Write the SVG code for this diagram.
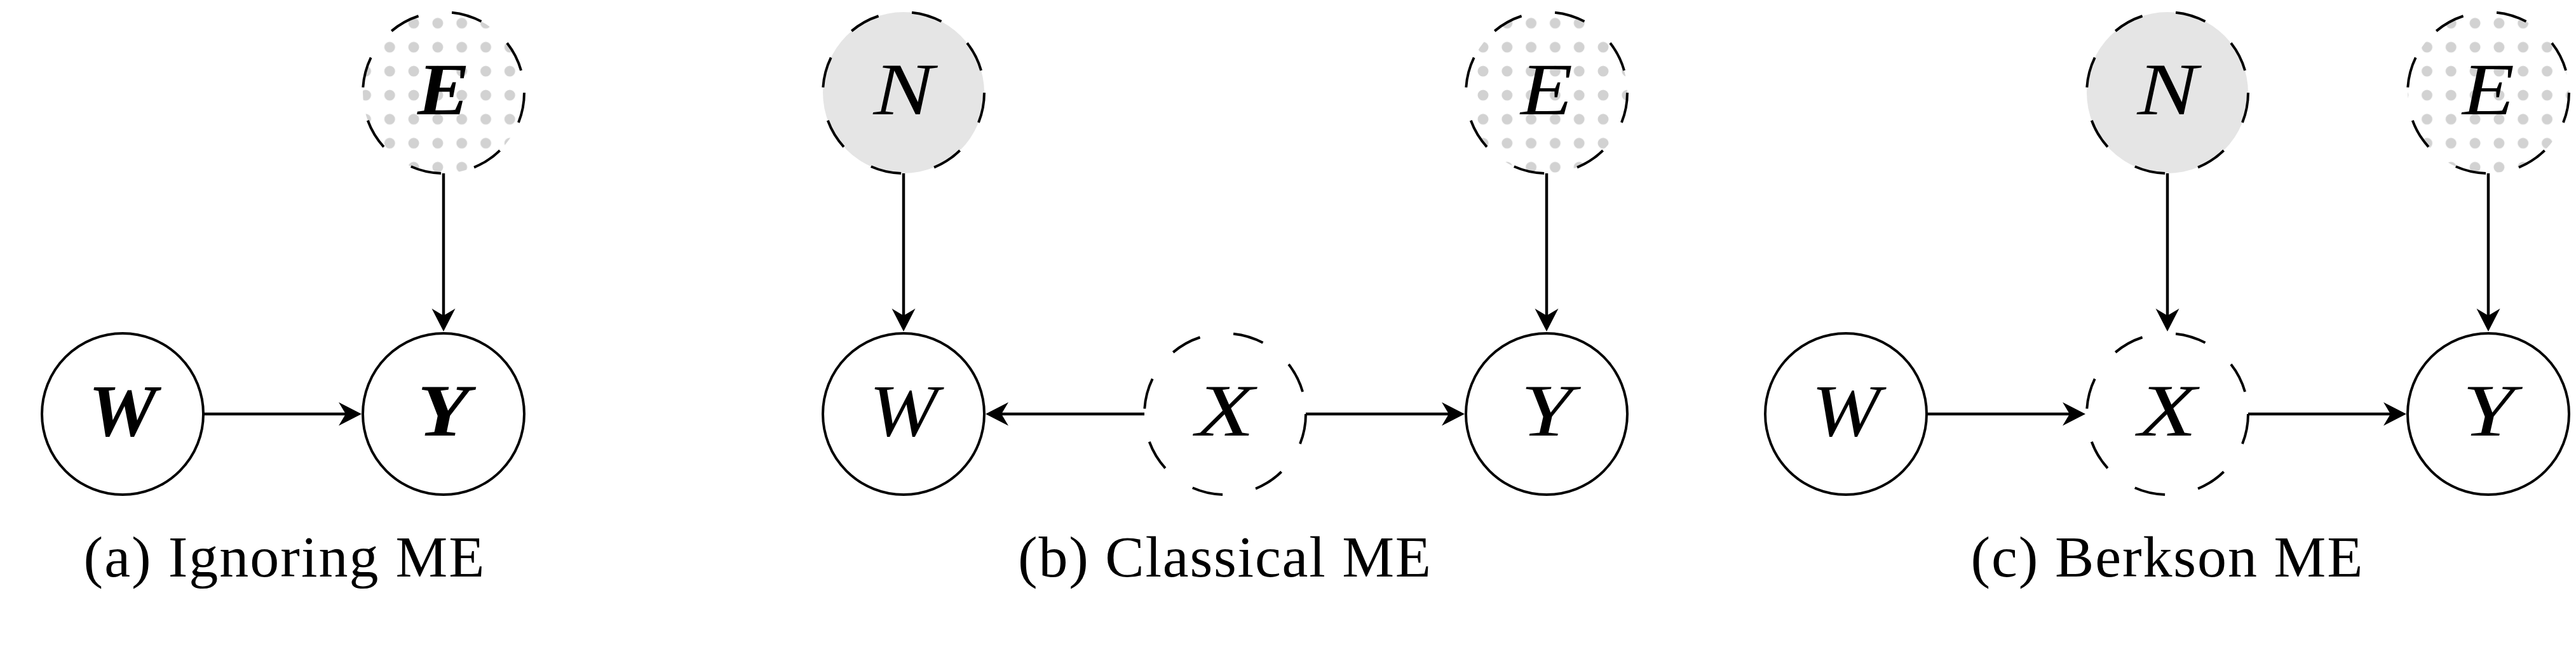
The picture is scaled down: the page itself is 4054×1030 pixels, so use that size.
<svg xmlns="http://www.w3.org/2000/svg" width="4054" height="1030" viewBox="0 0 4054 1030">
<style>
  .solid { fill: #ffffff; stroke: #000000; stroke-width: 4; }
  .dash { stroke: #000000; stroke-width: 4; stroke-dasharray: 48.8 53.2; stroke-dashoffset: 66.5; }
  .noise { fill: #e5e5e5; }
  .lbl { font-family: "Liberation Serif", "Times New Roman", serif; font-style: italic; font-size: 116px; text-anchor: middle; fill: #000000; }
  .bold { font-weight: bold; }
  .cap { font-family: "Liberation Serif", "Times New Roman", serif; font-size: 92px; text-anchor: middle; fill: #000000; }
  .edge { fill: none; stroke: #000000; stroke-width: 4.5; marker-end: url(#arr); }
</style>
<defs>
  <marker id="arr" markerUnits="userSpaceOnUse" markerWidth="80" markerHeight="80" refX="0" refY="0" orient="auto" overflow="visible">
    <path d="M 20 0 L -16 -18.5 L -5 0 L -16 18.5 Z" fill="#000000"/>
  </marker>
  <pattern id="dotsA" patternUnits="userSpaceOnUse" x="594.4" y="17.6" width="37.8" height="37.8">
    <circle cx="18.9" cy="18.9" r="8.5" fill="#d2d2d2"/>
  </pattern>
  <pattern id="dotsB" patternUnits="userSpaceOnUse" x="2315.1" y="17.6" width="37.8" height="37.8">
    <circle cx="18.9" cy="18.9" r="8.5" fill="#d2d2d2"/>
  </pattern>
  <pattern id="dotsC" patternUnits="userSpaceOnUse" x="3800.6" y="17.6" width="37.8" height="37.8">
    <circle cx="18.9" cy="18.9" r="8.5" fill="#d2d2d2"/>
  </pattern>
</defs>

<rect x="0" y="0" width="4054" height="1030" fill="#ffffff"/>

<!-- Panel (a) -->
<g id="a-W">
  <circle class="solid" cx="193" cy="652" r="127"/>
  <text class="lbl bold" x="193" y="686" textLength="108" lengthAdjust="spacingAndGlyphs">W</text>
</g>
<g id="a-Y">
  <circle class="solid" cx="698" cy="652" r="127"/>
  <text class="lbl bold" x="698" y="686" textLength="82" lengthAdjust="spacingAndGlyphs">Y</text>
</g>
<g id="a-E">
  <path class="dash" fill="url(#dotsA)" d="M 825 146 A 127 127 0 0 0 571 146 A 127 127 0 0 0 825 146 Z"/>
  <text class="lbl bold" x="698" y="180" textLength="82" lengthAdjust="spacingAndGlyphs">E</text>
</g>
<text id="cap-a" class="cap" x="447" y="908" textLength="631" lengthAdjust="spacing">(a) Ignoring ME</text>

<!-- Panel (b) -->
<g id="b-N">
  <path class="dash noise" d="M 1549 146 A 127 127 0 0 0 1295 146 A 127 127 0 0 0 1549 146 Z"/>
  <text class="lbl" x="1422" y="180" textLength="95" lengthAdjust="spacingAndGlyphs">N</text>
</g>
<g id="b-W">
  <circle class="solid" cx="1422" cy="652" r="127"/>
  <text class="lbl" x="1422" y="686" textLength="108" lengthAdjust="spacingAndGlyphs">W</text>
</g>
<g id="b-X">
  <path class="dash" fill="none" d="M 2055 652 A 127 127 0 0 0 1801 652 A 127 127 0 0 0 2055 652 Z"/>
  <text class="lbl" x="1928" y="686" textLength="92" lengthAdjust="spacingAndGlyphs">X</text>
</g>
<g id="b-E">
  <path class="dash" fill="url(#dotsB)" d="M 2561 146 A 127 127 0 0 0 2307 146 A 127 127 0 0 0 2561 146 Z"/>
  <text class="lbl" x="2434" y="180" textLength="82" lengthAdjust="spacingAndGlyphs">E</text>
</g>
<g id="b-Y">
  <circle class="solid" cx="2434" cy="652" r="127"/>
  <text class="lbl" x="2434" y="686" textLength="82" lengthAdjust="spacingAndGlyphs">Y</text>
</g>
<text id="cap-b" class="cap" x="1927" y="908" textLength="650" lengthAdjust="spacing">(b) Classical ME</text>

<!-- Panel (c) -->
<g id="c-W">
  <circle class="solid" cx="2905" cy="652" r="127"/>
  <text class="lbl" x="2905" y="686" textLength="108" lengthAdjust="spacingAndGlyphs">W</text>
</g>
<g id="c-N">
  <path class="dash noise" d="M 3538 146 A 127 127 0 0 0 3284 146 A 127 127 0 0 0 3538 146 Z"/>
  <text class="lbl" x="3411" y="180" textLength="95" lengthAdjust="spacingAndGlyphs">N</text>
</g>
<g id="c-X">
  <path class="dash" fill="none" d="M 3538 652 A 127 127 0 0 0 3284 652 A 127 127 0 0 0 3538 652 Z"/>
  <text class="lbl" x="3411" y="686" textLength="92" lengthAdjust="spacingAndGlyphs">X</text>
</g>
<g id="c-E">
  <path class="dash" fill="url(#dotsC)" d="M 4043 146 A 127 127 0 0 0 3789 146 A 127 127 0 0 0 4043 146 Z"/>
  <text class="lbl" x="3916" y="180" textLength="82" lengthAdjust="spacingAndGlyphs">E</text>
</g>
<g id="c-Y">
  <circle class="solid" cx="3916" cy="652" r="127"/>
  <text class="lbl" x="3916" y="686" textLength="82" lengthAdjust="spacingAndGlyphs">Y</text>
</g>
<text id="cap-c" class="cap" x="3410" y="908" textLength="617" lengthAdjust="spacing">(c) Berkson ME</text>

<!-- Connectors -->
<g id="connectors">
  <path class="edge" d="M 320 652 L 549 652"/>
  <path class="edge" d="M 698 273 L 698 502"/>
  <path class="edge" d="M 1422 273 L 1422 502"/>
  <path class="edge" d="M 1801 652 L 1571 652"/>
  <path class="edge" d="M 2055 652 L 2285 652"/>
  <path class="edge" d="M 2434 273 L 2434 502"/>
  <path class="edge" d="M 3032 652 L 3262 652"/>
  <path class="edge" d="M 3411 273 L 3411 502"/>
  <path class="edge" d="M 3538 652 L 3767 652"/>
  <path class="edge" d="M 3916 273 L 3916 502"/>
</g>
</svg>
